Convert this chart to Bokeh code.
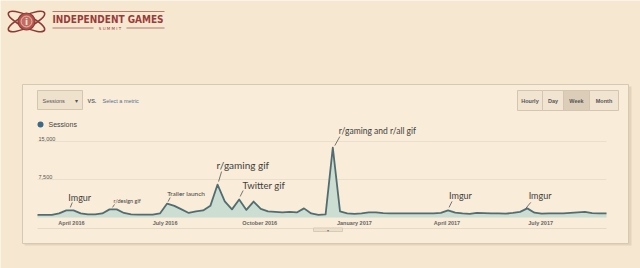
import numpy as np
from bokeh.plotting import figure
from bokeh.models import Range1d, ColumnDataSource
from bokeh.core.properties import value
from bokeh.embed import file_html
from bokeh.resources import INLINE

# ---------------- data ----------------
start_week = "2016-02-28"
sessions = [500, 500, 500, 800, 1400, 1400, 800, 600, 600, 800,
            1600, 1600, 900, 600, 550, 550, 550, 800, 2750, 2300,
            1600, 900, 1200, 1400, 2300, 6500, 3200, 1600, 3550, 1500,
            3150, 1700, 1200, 1100, 1000, 1100, 1000, 1800, 800, 500,
            600, 13800, 1200, 800, 700, 800, 1000, 1000, 850, 800,
            800, 800, 800, 800, 800, 800, 900, 1400, 950, 800,
            700, 900, 850, 800, 800, 750, 900, 1100, 1800, 950,
            750, 800, 800, 800, 900, 1000, 1100, 850, 800, 800]
x_tick_dates = ["2016-04-01", "2016-07-01", "2016-10-01", "2017-01-01", "2017-04-01", "2017-07-01"]
x_tick_labels = ["April 2016", "July 2016", "October 2016", "January 2017", "April 2017", "July 2017"]
y_ticks = [7500, 15000]
y_tick_labels = ["7,500", "15,000"]
ann_week = [4, 10, 18, 25, 28, 41, 57, 68]
ann_text = ["Imgur", "r/design gif", "Trailer launch", "r/gaming gif", "Twitter gif",
            "r/gaming and r/all gif", "Imgur", "Imgur"]
buttons = ["Hourly", "Day", "Week", "Month"]

# ---------------- layout / style ----------------
W, H = 640, 268
CH_LEFT, CH_RIGHT = 37, 606
Y0_PX = 217
PX_PER_7500 = 38
BG = "#f6e7d0"
PANEL = "#f9ecd8"
LINE = "#526d72"
FILL = "#c6dcd2"
TXT = "#3f3f3f"

ann_dx = [2, 4, 0, -1, 3.4, 6, 1, 1.4]
ann_dy = [-13, -8, -10, -20, -14, -17, -15, -13]
ann_size = ["9px", "5.5px", "6.5px", "10px", "9.5px", "8.5px", "9px", "9px"]
lead = [(4, -3, 6, -8), (3, -2, 5, -5), (1, -2, 3, -6), (1, -3, 4, -13),
        (1, -3, 4, -9), (2, -2, 7, -11), (1, -3, 4, -9), (-1.5, 0, 3.5, -6)]

n = len(sessions)
dates_ms = (np.datetime64(start_week) + np.arange(n) * np.timedelta64(7, "D")).astype("datetime64[ms]").astype(np.int64).astype(float)
ms_per_px = (dates_ms[-1] - dates_ms[0]) / (CH_RIGHT - CH_LEFT)
t_start = dates_ms[0] - CH_LEFT * ms_per_px
t_end = t_start + W * ms_per_px
s_per_px = 7500 / PX_PER_7500
v_start = -(H - Y0_PX) * s_per_px
v_end = Y0_PX * s_per_px

def t2px(t):
    return (t - t_start) / ms_per_px

def v2px(v):
    return Y0_PX - v / s_per_px

p = figure(width=W, height=H, x_range=Range1d(0, W), y_range=Range1d(H, 0),
           x_axis_type=None, y_axis_type=None, toolbar_location=None,
           output_backend="svg", min_border=0, outline_line_color=None,
           background_fill_color=BG, border_fill_color=BG)
p.extra_x_ranges = {"t": Range1d(t_start, t_end)}
p.extra_y_ranges = {"v": Range1d(v_start, v_end)}

# ---------------- header logo ----------------
p.ellipse(x=[26, 26], y=[21, 21], width=[40, 40], height=[12, 12], angle=[0.45, -0.45],
          fill_color=None, line_color="#8e3b36", line_width=1.6)
p.circle(x=[26], y=[21], radius=8.5, fill_color="#b4534b", line_color="#8e3b36", line_width=1.2)
p.circle(x=[26], y=[21], radius=5.5, fill_color="#c56a60", line_color="#f0d6c8", line_width=0.8)
p.text(x=[26], y=[21.5], text=["i"], text_align="center", text_baseline="middle",
       text_font=value("DejaVu Sans"), text_font_style="bold", text_font_size="9px", text_color="#f6e2d6")
p.text(x=[52], y=[18.5], text=["INDEPENDENT GAMES"], text_baseline="middle",
       text_font=value("DejaVu Sans Condensed"), text_font_style="bold", text_font_size="10px",
       text_color="#9b3c3a")
p.segment(x0=[52, 52, 126], y0=[11, 27.5, 27.5], x1=[164, 93, 164], y1=[11, 27.5, 27.5],
          line_color="#b07a70", line_width=1)
p.text(x=[109.5], y=[27.8], text=["S U M M I T"], text_align="center", text_baseline="middle",
       text_font=value("DejaVu Sans"), text_font_size="4px", text_color="#9b3c3a")

# ---------------- panel ----------------
p.quad(left=[24], right=[631], top=[86], bottom=[245], fill_color="#e4d3bb", line_color=None)
p.quad(left=[22], right=[628], top=[84], bottom=[243], fill_color=PANEL, line_color="#d6c9b4", line_width=1)

# controls
p.quad(left=[37], right=[82], top=[90], bottom=[109], fill_color="#efe2cd", line_color="#d3c5b0")
p.text(x=[42], y=[100], text=["Sessions"], text_baseline="middle", text_font=value("Liberation Sans"),
       text_font_size="5.5px", text_color="#555555")
p.text(x=[76], y=[100], text=["▾"], text_align="center", text_baseline="middle",
       text_font=value("DejaVu Sans"), text_font_size="6px", text_color="#555555")
p.text(x=[87], y=[100], text=["VS."], text_baseline="middle", text_font=value("Liberation Sans"),
       text_font_style="bold", text_font_size="5.5px", text_color="#666666")
p.text(x=[102], y=[100], text=["Select a metric"], text_baseline="middle", text_font=value("Liberation Sans"),
       text_font_size="5.5px", text_color="#56708f")

bl = [517, 542, 563, 589]
br = [542, 563, 589, 618]
p.quad(left=bl, right=br, top=[90] * 4, bottom=[110] * 4,
       fill_color=["#f1e5d2", "#f1e5d2", "#dbcdb7", "#f1e5d2"], line_color="#d3c5b0")
p.text(x=[(a + b) / 2 for a, b in zip(bl, br)], y=[100] * 4, text=buttons, text_align="center",
       text_baseline="middle", text_font=value("Liberation Sans"), text_font_style="bold",
       text_font_size="5.5px", text_color="#555555")

# legend
p.circle(x=[40], y=[124], radius=3, fill_color="#3c6987", line_color=None)
p.text(x=[48], y=[124], text=["Sessions"], text_baseline="middle", text_font=value("Liberation Sans"),
       text_font_size="7px", text_color="#444444")

# ---------------- chart ----------------
p.segment(x0=[dates_ms[0]] * len(y_ticks), x1=[dates_ms[-1]] * len(y_ticks), y0=y_ticks, y1=y_ticks,
          x_range_name="t", y_range_name="v", line_color="#eadfcc", line_width=1)
p.text(x=[dates_ms[0]] * len(y_ticks), y=y_ticks, text=y_tick_labels, x_offset=1, y_offset=-1,
       text_baseline="bottom", x_range_name="t", y_range_name="v",
       text_font=value("Liberation Sans"), text_font_size="5.5px", text_color="#555555")

src = ColumnDataSource(dict(x=dates_ms, y=sessions))
p.varea(x="x", y1=0, y2="y", source=src, x_range_name="t", y_range_name="v",
        fill_color=FILL, fill_alpha=0.9)
p.line(x="x", y="y", source=src, x_range_name="t", y_range_name="v",
       line_color=LINE, line_width=1.8, line_join="round")

# x tick labels
tick_ms = np.array(x_tick_dates, dtype="datetime64[ms]").astype(np.int64).astype(float)
p.text(x=tick_ms, y=[0] * len(tick_ms), text=x_tick_labels, y_offset=5.5, text_align="center",
       text_baseline="middle", x_range_name="t", y_range_name="v",
       text_font=value("Liberation Sans"), text_font_style="bold", text_font_size="5.5px",
       text_color="#666666")
p.segment(x0=[CH_LEFT], x1=[CH_RIGHT], y0=[228], y1=[228], line_color="#e6dac7", line_width=1)
p.quad(left=[313], right=[342], top=[227.5], bottom=[231], fill_color="#ece0cd", line_color="#d8cbb6")
p.text(x=[327.5], y=[229.5], text=["▾"], text_align="center", text_baseline="middle",
       text_font=value("DejaVu Sans"), text_font_size="4px", text_color="#777777")

# ---------------- annotations ----------------
ax = [dates_ms[i] for i in ann_week]
ay = [sessions[i] for i in ann_week]
asrc = ColumnDataSource(dict(x=ax, y=ay, text=ann_text, dx=ann_dx, dy=ann_dy, size=ann_size))
p.text(x="x", y="y", text="text", x_offset="dx", y_offset="dy", text_font_size="size",
       source=asrc, x_range_name="t", y_range_name="v", text_baseline="middle",
       text_font=value("Lato"), text_color=TXT)
apx = [t2px(t) for t in ax]
apy = [v2px(v) for v in ay]
p.segment(x0=[x + l[0] for x, l in zip(apx, lead)], y0=[y + l[1] for y, l in zip(apy, lead)],
          x1=[x + l[2] for x, l in zip(apx, lead)], y1=[y + l[3] for y, l in zip(apy, lead)],
          line_color="#555555", line_width=0.8)

open("out.html", "w").write(file_html(p, INLINE))
